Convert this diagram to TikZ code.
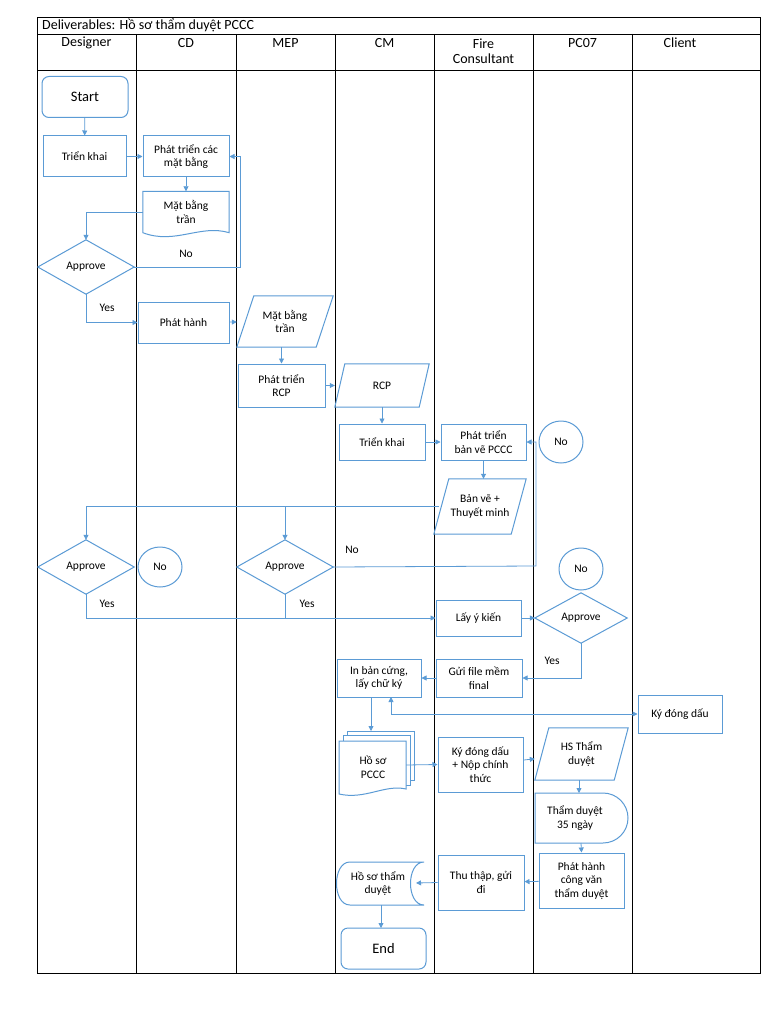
\documentclass[tikz,border=0pt]{standalone}
\usepackage{fontspec}
\setmainfont{Carlito}
\usetikzlibrary{arrows.meta,shapes.geometric}
\definecolor{fb}{HTML}{5B9BD5}
\begin{document}
\begin{tikzpicture}[x=1pt,y=-1pt,
  lane/.style={draw=black,line width=0.8pt},
  box/.style={draw=fb,line width=1pt,align=center,font=\fontsize{11.5}{13.5}\selectfont,inner sep=0pt},
  bx/.style={align=center,font=\fontsize{11.5}{13.5}\selectfont,inner sep=0pt},
  sh/.style={draw=fb,line width=1pt},
  ar/.style={draw=fb,line width=0.8pt,-{Triangle[length=5pt,width=5pt]}},
  lbl/.style={font=\fontsize{11.5}{13.5}\selectfont,inner sep=0pt},
  hd/.style={font=\fontsize{14}{15}\selectfont,align=center,inner sep=0pt}]
\useasboundingbox (0,0) rectangle (768,1024);
\fill[white] (0,0) rectangle (768,1024);
% table
\draw[lane] (37,17) rectangle (760,973);
\draw[lane] (37,34) -- (760,34);
\draw[lane] (37,70) -- (760,70);
\foreach \x in {136,236,335,434,533,632} \draw[lane] (\x,34) -- (\x,973);
\node[hd,anchor=west] (title) at (42,25.5) {Deliverables: Hồ sơ thẩm duyệt PCCC};
\node[hd] (h1) at (86.5,43) {Designer};
\node[hd] (h2) at (186,43) {CD};
\node[hd] (h3) at (285.5,43) {MEP};
\node[hd] (h4) at (384.5,43) {CM};
\node[hd,text width=90pt] (h5) at (483.5,51) {Fire\\Consultant};
\node[hd] (h6) at (582.5,43) {PC07};
\node[hd] (h7) at (680,43) {Client};
% nodes
\node[box,rounded corners=7pt,minimum width=86pt,minimum height=41pt,font=\fontsize{14.5}{16}\selectfont] (start) at (85,97) {Start};
\node[box,minimum width=83pt,minimum height=41pt] (tk1) at (84.5,156.5) {Triển khai};
\node[box,minimum width=86pt,minimum height=41pt] (ptmb) at (186,156.5) {Phát triển các\\mặt bằng};
\node[bx,minimum width=86pt,minimum height=41pt] (mbt1) at (186,212) {Mặt bằng\\trần};
\draw[sh] (mbt1.north west) -- (mbt1.north east) -- (mbt1.south east) .. controls (200,224) and (175,245) .. (mbt1.south west) -- cycle;
\node[bx,minimum width=96pt,minimum height=54pt] (ap1) at (86,267) {Approve};
\draw[sh] (ap1.north) -- (ap1.east) -- (ap1.south) -- (ap1.west) -- cycle;
\node[box,minimum width=91pt,minimum height=41pt] (ph1) at (183.5,322.5) {Phát hành};
\node[bx,minimum width=96pt,minimum height=51pt] (mbt2) at (285,321.5) {Mặt bằng\\trần};
\draw[sh] ([xshift=17pt]mbt2.north west) -- (mbt2.north east) -- ([xshift=-17pt]mbt2.south east) -- (mbt2.south west) -- cycle;
\node[box,minimum width=87pt,minimum height=43pt] (ptrcp) at (281.5,385.5) {Phát triển\\RCP};
\node[bx,minimum width=94pt,minimum height=43pt] (rcp) at (382,385.5) {RCP};
\draw[sh] ([xshift=10pt]rcp.north west) -- (rcp.north east) -- ([xshift=-10pt]rcp.south east) -- (rcp.south west) -- cycle;
\node[box,minimum width=86pt,minimum height=36pt] (tk2) at (382,442) {Triển khai};
\node[box,minimum width=85pt,minimum height=36pt] (ptpccc) at (483.5,442) {Phát triển\\bản vẽ PCCC};
\node[box,ellipse,minimum width=44pt,minimum height=42pt] (no1) at (561,442) {No};
\node[bx,minimum width=92pt,minimum height=55pt] (bv) at (480,506.5) {Bản vẽ +\\Thuyết minh};
\draw[sh] ([xshift=15pt]bv.north west) -- (bv.north east) -- ([xshift=-15pt]bv.south east) -- (bv.south west) -- cycle;
\node[bx,minimum width=96pt,minimum height=54pt] (ap2) at (86,567) {Approve};
\draw[sh] (ap2.north) -- (ap2.east) -- (ap2.south) -- (ap2.west) -- cycle;
\node[box,ellipse,minimum width=44pt,minimum height=40pt] (no2) at (160,567) {No};
\node[bx,minimum width=96pt,minimum height=54pt] (ap3) at (285,567) {Approve};
\draw[sh] (ap3.north) -- (ap3.east) -- (ap3.south) -- (ap3.west) -- cycle;
\node[box,minimum width=85pt,minimum height=36pt] (lyk) at (478.5,618) {Lấy ý kiến};
\node[bx,minimum width=92pt,minimum height=50pt] (ap4) at (581,618) {Approve};
\draw[sh] (ap4.north) -- (ap4.east) -- (ap4.south) -- (ap4.west) -- cycle;
\node[box,ellipse,minimum width=44pt,minimum height=42pt] (no3) at (581,569) {No};
\node[box,minimum width=86pt,minimum height=38pt] (gf) at (479,678) {Gửi file mềm\\final};
\node[box,minimum width=84pt,minimum height=38pt] (inb) at (379,678) {In bản cứng,\\lấy chữ ký};
\node[box,minimum width=84pt,minimum height=38pt] (kdd) at (680,714) {Ký đóng dấu};
\node[bx,minimum width=66pt,minimum height=50pt] (hspccc) at (374,764) {};
\draw[sh,fill=white] (347,731) -- (414,731) -- (414,780) -- (407,780) -- (407,738) -- (347,738) -- cycle;
\draw[sh,fill=white] (343,735) -- (410,735) -- (410,785) -- (403,785) -- (403,742) -- (343,742) -- cycle;
\draw[sh,fill=white] (339,741) -- (406,741) -- (406,789) .. controls (385,784) and (365,800) .. (339,794) -- cycle;
\node[bx] (hspccct) at (373,767) {Hồ sơ\\PCCC};
\node[box,minimum width=85pt,minimum height=55pt] (kdn) at (480.5,764.5) {Ký đóng dấu\\+ Nộp chính\\thức};
\node[bx,minimum width=93pt,minimum height=52pt] (hstd) at (581.5,754) {HS Thẩm\\duyệt};
\draw[sh] ([xshift=14pt]hstd.north west) -- (hstd.north east) -- ([xshift=-14pt]hstd.south east) -- (hstd.south west) -- cycle;
\node[bx,minimum width=93pt,minimum height=50pt] (td) at (575,818) {Thẩm duyệt\\35 ngày};
\draw[sh] (535,793) -- (603,793) arc[start angle=90,end angle=-90,x radius=25pt,y radius=25pt] -- (535,843) -- cycle;
\node[box,minimum width=85pt,minimum height=55pt] (phcv) at (581.5,880.5) {Phát hành\\công văn\\thẩm duyệt};
\node[box,minimum width=86pt,minimum height=55pt] (tt) at (481,882.5) {Thu thập, gửi\\đi};
\node[bx,minimum width=88pt,minimum height=43pt] (hstd2) at (378,883.5) {Hồ sơ thẩm\\duyệt};
\draw[sh] (424,862) -- (350,862) .. controls (332,862) and (332,905) .. (350,905) -- (424,905) .. controls (406,905) and (406,862) .. (424,862);
\node[box,rounded corners=7pt,minimum width=85pt,minimum height=41pt,font=\fontsize{14.5}{16}\selectfont] (end) at (383.5,948.5) {End};
% connectors
\draw[ar] (start) -- (tk1);
\draw[ar] (tk1) -- (ptmb);
\draw[ar] (ptmb) -- (mbt1);
\draw[ar] (mbt1.west) -| (ap1.north);
\draw[ar] (ap1.east) -- (240,267) |- (ptmb.east);
\node[lbl] (nol1) at (186,254) {No};
\draw[ar] (ap1.south) |- (ph1.west);
\node[lbl] (yl1) at (107,308) {Yes};
\draw[ar] (ph1) -- (mbt2);
\draw[ar] (mbt2.south -| ptrcp.north) -- (ptrcp.north);
\draw[ar] (ptrcp) -- (rcp);
\draw[ar] (rcp) -- (tk2);
\draw[ar] (tk2) -- (ptpccc);
\draw[ar] (ptpccc.south) -- (ptpccc.south |- bv.north);
\coordinate (bvl) at (439,506);
\draw[ar] (bvl) -| (ap2.north);
\draw[ar] (285,506) -- (ap3.north);
\draw[ar] (ap3.east) -- (536,566) |- (ptpccc.east);
\node[lbl] (nol2) at (352,550) {No};
\draw[ar] (ap2.south) |- (lyk.west);
\draw[draw=fb,line width=0.8pt] (ap3.south) -- (285,619);
\node[lbl] (yl2) at (107,604) {Yes};
\node[lbl] (yl3) at (307,604) {Yes};
\draw[ar] (lyk) -- (ap4);
\draw[ar] (ap4.south) |- (gf.east);
\node[lbl] (yl4) at (552,661) {Yes};
\draw[ar] (gf) -- (inb);
\draw[ar,{Triangle[length=5pt,width=5pt]}-{Triangle[length=5pt,width=5pt]}] (391,697) |- (kdd.west);
\draw[ar] (371,697) -- (371,731);
\draw[ar] (406,765) -- (kdn.west);
\draw[ar] (kdn) -- (hstd);
\draw[ar] (579,780) -- (579,793);
\draw[ar] (581,843) -- (phcv.north);
\draw[ar] (phcv) -- (tt);
\draw[ar] (tt.west) -- (416,883);
\draw[ar] (381,905) -- (381,928);
\end{tikzpicture}
\end{document}
